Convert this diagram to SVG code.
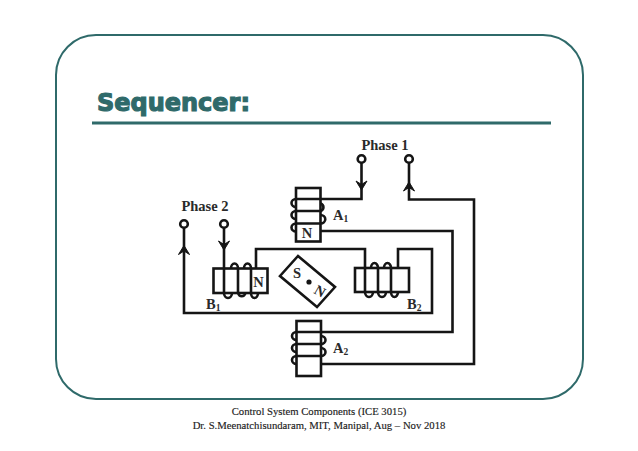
<svg xmlns="http://www.w3.org/2000/svg" width="638" height="451" viewBox="0 0 638 451">
<style>
.w{fill:none;stroke:#151515;stroke-width:2.6;stroke-linejoin:miter}
.h{fill:#151515;stroke:#151515;stroke-width:1}
.c{fill:#fff;stroke:#151515;stroke-width:2.6}
.l{font-family:"Liberation Serif",serif;font-weight:bold;fill:#2a2a2a;font-size:14.5px}
.f{font-family:"Liberation Serif",serif;font-size:10.7px;fill:#222;stroke:#222;stroke-width:.15;text-anchor:middle}
</style>
<rect width="638" height="451" fill="#fff"/>
<g id="slide-frame"><rect x="56" y="35" width="527" height="364" rx="40" ry="40" fill="none" stroke="#2f6a6a" stroke-width="2"/></g>
<g id="title"><text x="97" y="111" font-family="'DejaVu Sans',sans-serif" font-weight="bold" font-size="25" fill="#2f6a6a" stroke="#2f6a6a" stroke-width="1.200" textLength="153" lengthAdjust="spacingAndGlyphs">Sequencer:</text><path d="M92 123H551" stroke="#2f6a6a" stroke-width="3"/></g>
<g id="connectors">
<path class="w" d="M321 199H361.500V163"/>
<path class="w" d="M409 163V199.500H474V364H321"/>
<path class="w" d="M321 231H452.500V332H321"/>
<path class="w" d="M256 268V249H365V293"/>
<path class="w" d="M398 268V249H432V313H184V228"/>
<path class="w" d="M224 228V293"/>
<path class="h" d="M356 181L361.500 184.500L367 181L361.500 190Z"/>
<path class="h" d="M403.500 191L409 187.500L414.500 191L409 182Z"/>
<path class="h" d="M178.500 254.500L184 251L189.500 254.500L184 245.500Z"/>
<path class="h" d="M218.500 241L224 244.500L229.500 241L224 250Z"/>
</g>
<g id="terminals">
<circle class="c" cx="361.500" cy="159" r="3.800"/><circle class="c" cx="409" cy="159" r="3.800"/>
<circle class="c" cx="184" cy="224" r="3.800"/><circle class="c" cx="224" cy="224" r="3.800"/>
</g>
<g id="A1">
<rect class="w" x="296" y="188" width="24.500" height="53.500"/>
<path class="w" d="M296 199H321M296 211H321M296 223.500H321"/>
<path class="w" d="M296 199A4.500 4 0 0 0 296 207M296 211A4.500 4 0 0 0 296 219M296 223.500A4.500 4 0 0 0 296 231.500M320.500 203.500A4.500 4 0 0 1 320.500 211M320.500 215A4.500 4 0 0 1 320.500 223.500"/>
<text class="l" x="307" y="238" text-anchor="middle">N</text>
<text class="l" x="333" y="220">A<tspan font-size="9.500" dy="1.500">1</tspan></text>
</g>
<g id="A2">
<rect class="w" x="296.500" y="321" width="24.500" height="55"/>
<path class="w" d="M296.500 332H321M296.500 344H321M296.500 356H321"/>
<path class="w" d="M296.500 332A4.500 4 0 0 0 296.500 340M296.500 344A4.500 4 0 0 0 296.500 352M296.500 356A4.500 4 0 0 0 296.500 364M321 336A4.500 4 0 0 1 321 344M321 348A4.500 4 0 0 1 321 356"/>
<text class="l" x="333" y="353">A<tspan font-size="9.500" dy="1.500">2</tspan></text>
</g>
<g id="B1">
<rect class="w" x="213.500" y="268.500" width="54" height="24.500"/>
<path class="w" d="M238 268.500V293M251 268.500V293M231 268.500A3.500 5 0 0 1 238 268.500M244 268.500A3.500 5 0 0 1 251 268.500M224 293A4 5 0 0 0 232 293M238 293A4 5 0 0 0 245.500 293M251 293A3.500 5 0 0 0 258 293"/>
<text class="l" x="258.500" y="286.500" text-anchor="middle">N</text>
<text class="l" x="206" y="309">B<tspan font-size="9.500" dy="1.500">1</tspan></text>
</g>
<g id="B2">
<rect class="w" x="355" y="268" width="54" height="24"/>
<path class="w" d="M378 268V292M391 268V292M371 268A3.500 5 0 0 1 378 268M384 268A3.500 5 0 0 1 391 268M365 292A4 5 0 0 0 373 292M378 292A4 5 0 0 0 386 292M391 292A3.500 5 0 0 0 398 292"/>
<text class="l" x="407" y="309">B<tspan font-size="9.500" dy="1.500">2</tspan></text>
</g>
<g id="rotor">
<path class="w" d="M298 256L335 287L317 307L280 276Z"/>
<circle cx="309" cy="282" r="2.600" fill="#151515"/>
<text class="l" x="297" y="278" text-anchor="middle">S</text>
<text class="l" x="320" y="296" text-anchor="middle" transform="rotate(30 320 291)">N</text>
</g>
<g id="labels">
<text class="l" x="385" y="149.500" text-anchor="middle">Phase 1</text>
<text class="l" x="205" y="210.500" text-anchor="middle">Phase 2</text>
</g>
<g id="footer">
<text class="f" x="319" y="414.500">Control System Components (ICE 3015)</text>
<text class="f" x="319" y="428.500">Dr. S.Meenatchisundaram, MIT, Manipal, Aug – Nov 2018</text>
</g>
</svg>
